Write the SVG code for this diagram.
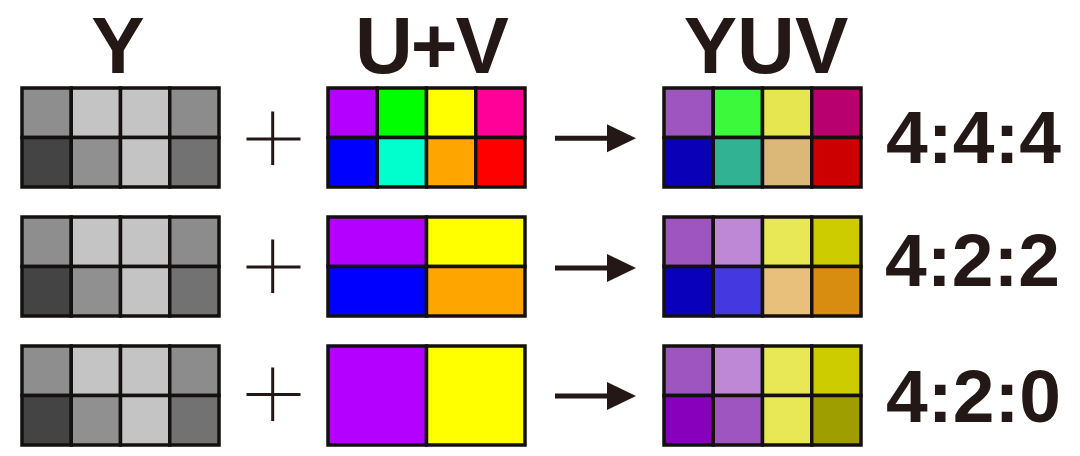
<svg xmlns="http://www.w3.org/2000/svg" width="1080" height="456" viewBox="0 0 1080 456">
<style>
.t{font-family:"Liberation Sans",Arial,sans-serif;font-weight:bold;fill:#231815}
.h{font-size:80px;text-anchor:middle}
.r{font-size:75px}
.c rect{stroke:#141010;stroke-width:3.5}
.p{stroke:#231815;stroke-width:3;fill:none}
.a{stroke:#231815;stroke-width:5;fill:none}
</style>
<defs>
<marker id="ah" markerUnits="userSpaceOnUse" markerWidth="30" markerHeight="30" viewBox="0 0 30 30" refX="1" refY="15" orient="auto">
<path d="M0,1 L29,15 L0,29 Z" fill="#231815"/>
</marker>
</defs>
<rect width="1080" height="456" fill="#ffffff"/>

<g id="titles">
<text class="t h" x="118" y="72.5">Y</text>
<text class="t h" x="431" y="72.5" letter-spacing="-2">U+V</text>
<text class="t h" x="766" y="72.5">YUV</text>
</g>

<!-- Row 1 -->
<g id="y1" class="c">
<rect x="22" y="88" width="49.25" height="49.5" fill="#8e8e8e"/>
<rect x="71.25" y="88" width="49.25" height="49.5" fill="#c4c4c4"/>
<rect x="120.5" y="88" width="49.25" height="49.5" fill="#c4c4c4"/>
<rect x="169.75" y="88" width="49.25" height="49.5" fill="#8c8c8c"/>
<rect x="22" y="137.5" width="49.25" height="49.5" fill="#444444"/>
<rect x="71.25" y="137.5" width="49.25" height="49.5" fill="#909090"/>
<rect x="120.5" y="137.5" width="49.25" height="49.5" fill="#c4c4c4"/>
<rect x="169.75" y="137.5" width="49.25" height="49.5" fill="#727272"/>
</g>
<g id="uv1" class="c">
<rect x="328" y="88" width="49.25" height="49.5" fill="#b400ff"/>
<rect x="377.25" y="88" width="49.25" height="49.5" fill="#00ff00"/>
<rect x="426.5" y="88" width="49.25" height="49.5" fill="#ffff00"/>
<rect x="475.75" y="88" width="49.25" height="49.5" fill="#ff0099"/>
<rect x="328" y="137.5" width="49.25" height="49.5" fill="#0000ff"/>
<rect x="377.25" y="137.5" width="49.25" height="49.5" fill="#00ffcc"/>
<rect x="426.5" y="137.5" width="49.25" height="49.5" fill="#ffa500"/>
<rect x="475.75" y="137.5" width="49.25" height="49.5" fill="#ff0000"/>
</g>
<g id="yuv1" class="c">
<rect x="664" y="88" width="49.25" height="49.5" fill="#9e55c0"/>
<rect x="713.25" y="88" width="49.25" height="49.5" fill="#3cf93c"/>
<rect x="762.5" y="88" width="49.25" height="49.5" fill="#e6e650"/>
<rect x="811.75" y="88" width="49.25" height="49.5" fill="#b8006f"/>
<rect x="664" y="137.5" width="49.25" height="49.5" fill="#0a00b8"/>
<rect x="713.25" y="137.5" width="49.25" height="49.5" fill="#30b293"/>
<rect x="762.5" y="137.5" width="49.25" height="49.5" fill="#dcb878"/>
<rect x="811.75" y="137.5" width="49.25" height="49.5" fill="#cc0000"/>
</g>
<g id="label1"><text class="t r" x="886" y="163">4:4:4</text></g>

<!-- Row 2 -->
<g id="y2" class="c">
<rect x="22" y="217" width="49.25" height="49.5" fill="#8e8e8e"/>
<rect x="71.25" y="217" width="49.25" height="49.5" fill="#c4c4c4"/>
<rect x="120.5" y="217" width="49.25" height="49.5" fill="#c4c4c4"/>
<rect x="169.75" y="217" width="49.25" height="49.5" fill="#8c8c8c"/>
<rect x="22" y="266.5" width="49.25" height="49.5" fill="#444444"/>
<rect x="71.25" y="266.5" width="49.25" height="49.5" fill="#909090"/>
<rect x="120.5" y="266.5" width="49.25" height="49.5" fill="#c4c4c4"/>
<rect x="169.75" y="266.5" width="49.25" height="49.5" fill="#727272"/>
</g>
<g id="uv2" class="c">
<rect x="328" y="217" width="98.5" height="49.5" fill="#b400ff"/>
<rect x="426.5" y="217" width="98.5" height="49.5" fill="#ffff00"/>
<rect x="328" y="266.5" width="98.5" height="49.5" fill="#0000ff"/>
<rect x="426.5" y="266.5" width="98.5" height="49.5" fill="#ffa500"/>
</g>
<g id="yuv2" class="c">
<rect x="664" y="217" width="49.25" height="49.5" fill="#9e55c0"/>
<rect x="713.25" y="217" width="49.25" height="49.5" fill="#bf88d6"/>
<rect x="762.5" y="217" width="49.25" height="49.5" fill="#e8e856"/>
<rect x="811.75" y="217" width="49.25" height="49.5" fill="#cccc00"/>
<rect x="664" y="266.5" width="49.25" height="49.5" fill="#0800bb"/>
<rect x="713.25" y="266.5" width="49.25" height="49.5" fill="#4438e0"/>
<rect x="762.5" y="266.5" width="49.25" height="49.5" fill="#e8c07c"/>
<rect x="811.75" y="266.5" width="49.25" height="49.5" fill="#d88c10"/>
</g>
<g id="label2"><text class="t r" x="885" y="286">4:2:2</text></g>

<!-- Row 3 -->
<g id="y3" class="c">
<rect x="22" y="346" width="49.25" height="49.5" fill="#8e8e8e"/>
<rect x="71.25" y="346" width="49.25" height="49.5" fill="#c4c4c4"/>
<rect x="120.5" y="346" width="49.25" height="49.5" fill="#c4c4c4"/>
<rect x="169.75" y="346" width="49.25" height="49.5" fill="#8c8c8c"/>
<rect x="22" y="395.5" width="49.25" height="49.5" fill="#444444"/>
<rect x="71.25" y="395.5" width="49.25" height="49.5" fill="#909090"/>
<rect x="120.5" y="395.5" width="49.25" height="49.5" fill="#c4c4c4"/>
<rect x="169.75" y="395.5" width="49.25" height="49.5" fill="#727272"/>
</g>
<g id="uv3" class="c">
<rect x="328" y="346" width="98.5" height="99" fill="#b400ff"/>
<rect x="426.5" y="346" width="98.5" height="99" fill="#ffff00"/>
</g>
<g id="yuv3" class="c">
<rect x="664" y="346" width="49.25" height="49.5" fill="#9e55c0"/>
<rect x="713.25" y="346" width="49.25" height="49.5" fill="#bf88d6"/>
<rect x="762.5" y="346" width="49.25" height="49.5" fill="#e8e856"/>
<rect x="811.75" y="346" width="49.25" height="49.5" fill="#cccc00"/>
<rect x="664" y="395.5" width="49.25" height="49.5" fill="#8800bb"/>
<rect x="713.25" y="395.5" width="49.25" height="49.5" fill="#9e55c0"/>
<rect x="762.5" y="395.5" width="49.25" height="49.5" fill="#e8e856"/>
<rect x="811.75" y="395.5" width="49.25" height="49.5" fill="#9e9e00"/>
</g>
<g id="label3"><text class="t r" x="886" y="422">4:2:0</text></g>

<g id="operators">
<path class="p" d="M246.5,139 H300.5 M272.7,111.5 V165"/>
<path class="p" d="M246.5,267 H300.5 M272.7,239.5 V293"/>
<path class="p" d="M246.5,394.5 H300.5 M272.7,367.5 V421"/>
</g>

<g id="connectors">
<line class="a" x1="555" y1="138.3" x2="608" y2="138.3" marker-end="url(#ah)"/>
<line class="a" x1="555" y1="268" x2="608" y2="268" marker-end="url(#ah)"/>
<line class="a" x1="555" y1="396" x2="608" y2="396" marker-end="url(#ah)"/>
</g>
</svg>
